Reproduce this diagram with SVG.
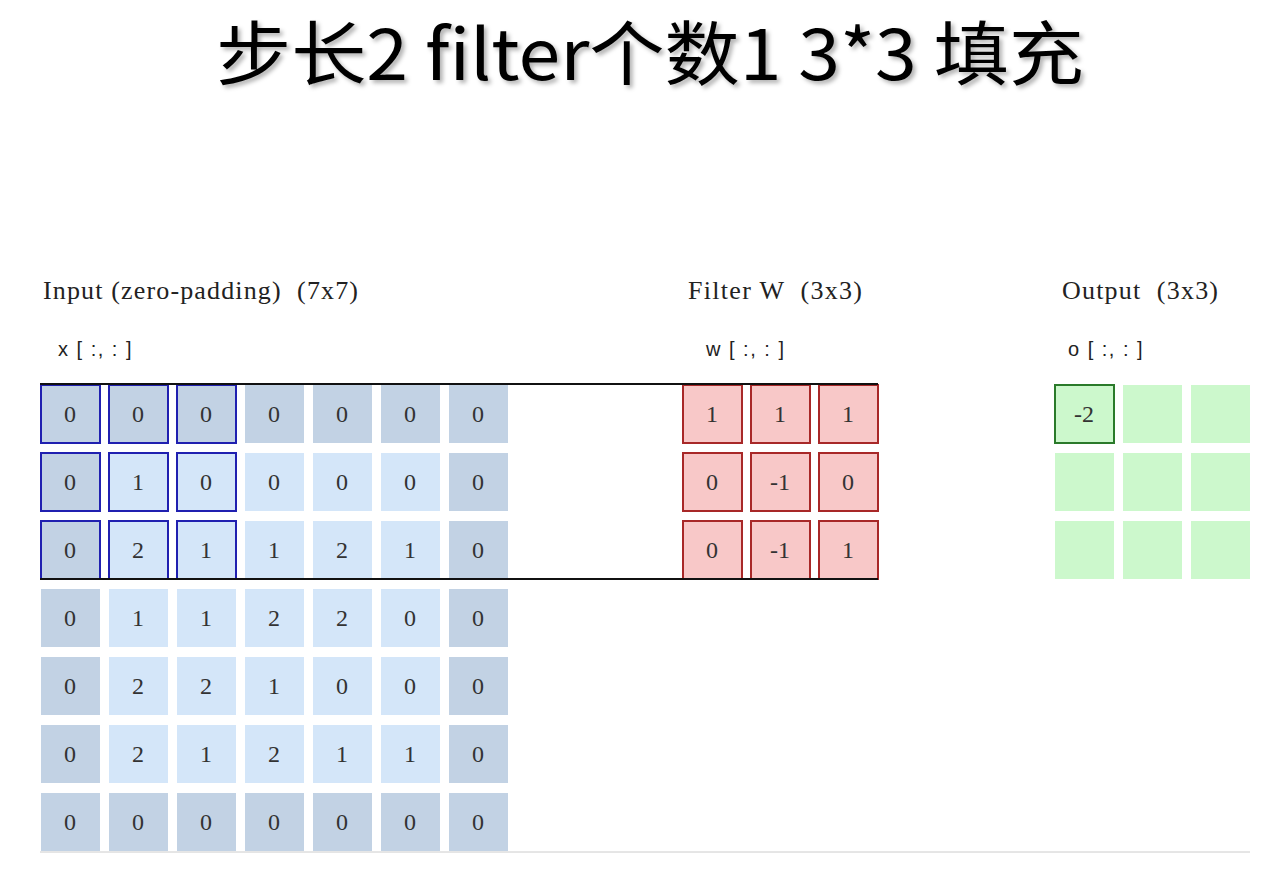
<svg xmlns="http://www.w3.org/2000/svg" width="1275" height="872" viewBox="0 0 1275 872">
<defs>
<filter id="sh" x="-10%" y="-40%" width="120%" height="180%"><feDropShadow dx="3" dy="3" stdDeviation="2" flood-color="#000" flood-opacity="0.3"/></filter>
</defs>
<style>
.t{font-family:"Noto Sans CJK SC","Noto Sans",sans-serif;font-size:70px;font-weight:400;fill:#000}
.lb{font-family:"Liberation Serif",serif;font-size:26px;fill:#222;white-space:pre}
.m{font-family:"Liberation Sans",sans-serif;font-size:20px;fill:#222;white-space:pre;letter-spacing:1.5px}
.n{font-family:"Liberation Serif",serif;font-size:24px;fill:#333;text-anchor:middle}
.p{fill:#c2d2e4}.i{fill:#d4e6f9}
.bx{fill:none;stroke:#2020b0;stroke-width:2}
.r{fill:#f8c8c8;stroke:#a82828;stroke-width:2}
.g{fill:#ccf8cc}.gb{stroke:#2a7a2a;stroke-width:2}
</style>
<rect width="1275" height="872" fill="#fff"/>
<text class="t" x="650" y="80" text-anchor="middle" textLength="868" lengthAdjust="spacingAndGlyphs" filter="url(#sh)">步长2 filter个数1 3*3 填充</text>
<text class="lb" x="43" y="299" xml:space="preserve" textLength="315">Input (zero-padding)  (7x7)</text>
<text class="lb" x="688" y="299" xml:space="preserve" textLength="174">Filter W  (3x3)</text>
<text class="lb" x="1062" y="299" xml:space="preserve" textLength="156">Output  (3x3)</text>
<text class="m" x="58" y="356" xml:space="preserve">x [ :, : ]</text>
<text class="m" x="706" y="356" xml:space="preserve">w [ :, : ]</text>
<text class="m" x="1068" y="356" xml:space="preserve">o [ :, : ]</text>
<g id="input">
<g id="in-cells">
<rect class="p" x="41" y="385" width="59" height="58"/><rect class="p" x="109" y="385" width="59" height="58"/><rect class="p" x="177" y="385" width="59" height="58"/><rect class="p" x="245" y="385" width="59" height="58"/><rect class="p" x="313" y="385" width="59" height="58"/><rect class="p" x="381" y="385" width="59" height="58"/><rect class="p" x="449" y="385" width="59" height="58"/>
<rect class="p" x="41" y="453" width="59" height="58"/><rect class="i" x="109" y="453" width="59" height="58"/><rect class="i" x="177" y="453" width="59" height="58"/><rect class="i" x="245" y="453" width="59" height="58"/><rect class="i" x="313" y="453" width="59" height="58"/><rect class="i" x="381" y="453" width="59" height="58"/><rect class="p" x="449" y="453" width="59" height="58"/>
<rect class="p" x="41" y="521" width="59" height="58"/><rect class="i" x="109" y="521" width="59" height="58"/><rect class="i" x="177" y="521" width="59" height="58"/><rect class="i" x="245" y="521" width="59" height="58"/><rect class="i" x="313" y="521" width="59" height="58"/><rect class="i" x="381" y="521" width="59" height="58"/><rect class="p" x="449" y="521" width="59" height="58"/>
<rect class="p" x="41" y="589" width="59" height="58"/><rect class="i" x="109" y="589" width="59" height="58"/><rect class="i" x="177" y="589" width="59" height="58"/><rect class="i" x="245" y="589" width="59" height="58"/><rect class="i" x="313" y="589" width="59" height="58"/><rect class="i" x="381" y="589" width="59" height="58"/><rect class="p" x="449" y="589" width="59" height="58"/>
<rect class="p" x="41" y="657" width="59" height="58"/><rect class="i" x="109" y="657" width="59" height="58"/><rect class="i" x="177" y="657" width="59" height="58"/><rect class="i" x="245" y="657" width="59" height="58"/><rect class="i" x="313" y="657" width="59" height="58"/><rect class="i" x="381" y="657" width="59" height="58"/><rect class="p" x="449" y="657" width="59" height="58"/>
<rect class="p" x="41" y="725" width="59" height="58"/><rect class="i" x="109" y="725" width="59" height="58"/><rect class="i" x="177" y="725" width="59" height="58"/><rect class="i" x="245" y="725" width="59" height="58"/><rect class="i" x="313" y="725" width="59" height="58"/><rect class="i" x="381" y="725" width="59" height="58"/><rect class="p" x="449" y="725" width="59" height="58"/>
<rect class="p" x="41" y="793" width="59" height="58"/><rect class="p" x="109" y="793" width="59" height="58"/><rect class="p" x="177" y="793" width="59" height="58"/><rect class="p" x="245" y="793" width="59" height="58"/><rect class="p" x="313" y="793" width="59" height="58"/><rect class="p" x="381" y="793" width="59" height="58"/><rect class="p" x="449" y="793" width="59" height="58"/>
</g>
<g class="bx">
<rect x="41" y="385" width="59" height="58"/><rect x="109" y="385" width="59" height="58"/><rect x="177" y="385" width="59" height="58"/>
<rect x="41" y="453" width="59" height="58"/><rect x="109" y="453" width="59" height="58"/><rect x="177" y="453" width="59" height="58"/>
<rect x="41" y="521" width="59" height="58"/><rect x="109" y="521" width="59" height="58"/><rect x="177" y="521" width="59" height="58"/>
</g>
<g id="in-nums">
<text class="n" x="70" y="422">0</text><text class="n" x="138" y="422">0</text><text class="n" x="206" y="422">0</text><text class="n" x="274" y="422">0</text><text class="n" x="342" y="422">0</text><text class="n" x="410" y="422">0</text><text class="n" x="478" y="422">0</text>
<text class="n" x="70" y="490">0</text><text class="n" x="138" y="490">1</text><text class="n" x="206" y="490">0</text><text class="n" x="274" y="490">0</text><text class="n" x="342" y="490">0</text><text class="n" x="410" y="490">0</text><text class="n" x="478" y="490">0</text>
<text class="n" x="70" y="558">0</text><text class="n" x="138" y="558">2</text><text class="n" x="206" y="558">1</text><text class="n" x="274" y="558">1</text><text class="n" x="342" y="558">2</text><text class="n" x="410" y="558">1</text><text class="n" x="478" y="558">0</text>
<text class="n" x="70" y="626">0</text><text class="n" x="138" y="626">1</text><text class="n" x="206" y="626">1</text><text class="n" x="274" y="626">2</text><text class="n" x="342" y="626">2</text><text class="n" x="410" y="626">0</text><text class="n" x="478" y="626">0</text>
<text class="n" x="70" y="694">0</text><text class="n" x="138" y="694">2</text><text class="n" x="206" y="694">2</text><text class="n" x="274" y="694">1</text><text class="n" x="342" y="694">0</text><text class="n" x="410" y="694">0</text><text class="n" x="478" y="694">0</text>
<text class="n" x="70" y="762">0</text><text class="n" x="138" y="762">2</text><text class="n" x="206" y="762">1</text><text class="n" x="274" y="762">2</text><text class="n" x="342" y="762">1</text><text class="n" x="410" y="762">1</text><text class="n" x="478" y="762">0</text>
<text class="n" x="70" y="830">0</text><text class="n" x="138" y="830">0</text><text class="n" x="206" y="830">0</text><text class="n" x="274" y="830">0</text><text class="n" x="342" y="830">0</text><text class="n" x="410" y="830">0</text><text class="n" x="478" y="830">0</text>
</g>
</g>
<g id="filter">
<rect class="r" x="683" y="385" width="59" height="58"/><rect class="r" x="751" y="385" width="59" height="58"/><rect class="r" x="819" y="385" width="59" height="58"/>
<rect class="r" x="683" y="453" width="59" height="58"/><rect class="r" x="751" y="453" width="59" height="58"/><rect class="r" x="819" y="453" width="59" height="58"/>
<rect class="r" x="683" y="521" width="59" height="58"/><rect class="r" x="751" y="521" width="59" height="58"/><rect class="r" x="819" y="521" width="59" height="58"/>
<text class="n" x="712" y="422">1</text><text class="n" x="780" y="422">1</text><text class="n" x="848" y="422">1</text>
<text class="n" x="712" y="490">0</text><text class="n" x="780" y="490">-1</text><text class="n" x="848" y="490">0</text>
<text class="n" x="712" y="558">0</text><text class="n" x="780" y="558">-1</text><text class="n" x="848" y="558">1</text>
</g>
<g id="output">
<rect class="g gb" x="1055" y="385" width="59" height="58"/><rect class="g" x="1123" y="385" width="59" height="58"/><rect class="g" x="1191" y="385" width="59" height="58"/>
<rect class="g" x="1055" y="453" width="59" height="58"/><rect class="g" x="1123" y="453" width="59" height="58"/><rect class="g" x="1191" y="453" width="59" height="58"/>
<rect class="g" x="1055" y="521" width="59" height="58"/><rect class="g" x="1123" y="521" width="59" height="58"/><rect class="g" x="1191" y="521" width="59" height="58"/>
<text class="n" x="1084" y="422">-2</text>
</g>
<g id="connectors" stroke="#111" stroke-width="2">
<line x1="40" y1="384" x2="878" y2="384"/>
<line x1="40" y1="579" x2="878" y2="579"/>
<line x1="40" y1="852" x2="1250" y2="852" stroke="#ccc" stroke-width="1"/>
</g>
</svg>
